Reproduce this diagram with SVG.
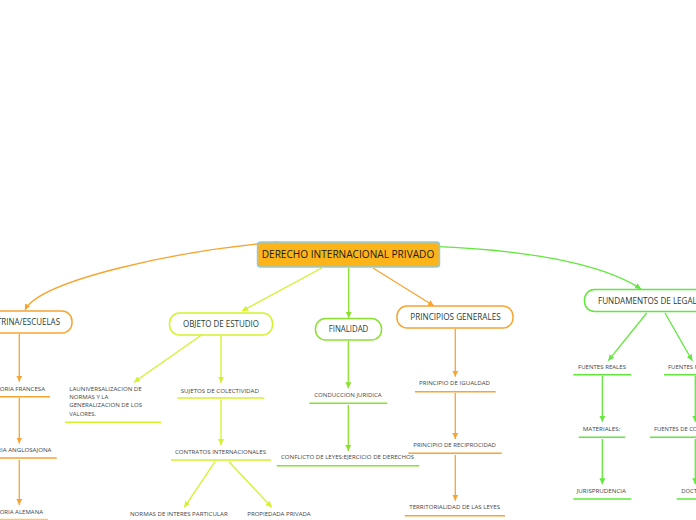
<svg xmlns="http://www.w3.org/2000/svg" width="696" height="520" viewBox="0 0 696 520">
<defs>
<style>
.conn{fill:none;stroke-width:1.3}
.o{stroke:#f6a531}
.y{stroke:#d4f22b}
.g{stroke:#8ae22f}
.b{stroke:#62e83c}
.box{fill:#ffffff;stroke-width:1.5}
.bt{font-family:"Open Sans","Liberation Sans",sans-serif;font-size:8.5px;fill:#1f3d35;text-anchor:middle}
.st{font-family:"Open Sans","Liberation Sans",sans-serif;font-size:6px;fill:#444444}
.ul{stroke-width:1.5;fill:none}
</style>
<marker id="ao" viewBox="0 0 6 6" refX="6" refY="3" markerWidth="6" markerHeight="6" markerUnits="userSpaceOnUse" orient="auto"><path d="M0,0 L6,3 L0,6 z" fill="#f6a531"/></marker>
<marker id="ay" viewBox="0 0 6 6" refX="6" refY="3" markerWidth="6" markerHeight="6" markerUnits="userSpaceOnUse" orient="auto"><path d="M0,0 L6,3 L0,6 z" fill="#d4f22b"/></marker>
<marker id="ag" viewBox="0 0 6 6" refX="6" refY="3" markerWidth="6" markerHeight="6" markerUnits="userSpaceOnUse" orient="auto"><path d="M0,0 L6,3 L0,6 z" fill="#8ae22f"/></marker>
<marker id="ab" viewBox="0 0 6 6" refX="6" refY="3" markerWidth="6" markerHeight="6" markerUnits="userSpaceOnUse" orient="auto"><path d="M0,0 L6,3 L0,6 z" fill="#62e83c"/></marker>
</defs>
<rect width="696" height="520" fill="#ffffff"/>

<g id="connectors">
<path class="conn o" marker-end="url(#ao)" d="M278,242 C180,250 40,280 25,310"/>
<path class="conn o" marker-end="url(#ao)" d="M19.3,334 V381.7"/>
<path class="conn o" marker-end="url(#ao)" d="M19.3,398 V443.5"/>
<path class="conn o" marker-end="url(#ao)" d="M19.3,460 V505"/>
<path class="conn o" marker-end="url(#ao)" d="M373,268 L434,306"/>
<path class="conn o" marker-end="url(#ao)" d="M455.3,329 V376.7"/>
<path class="conn o" marker-end="url(#ao)" d="M455.3,393 V439"/>
<path class="conn o" marker-end="url(#ao)" d="M455.3,455 V500.7"/>
<path class="conn y" marker-end="url(#ay)" d="M321.7,268 L242,311"/>
<path class="conn y" marker-end="url(#ay)" d="M213.3,326.7 L134,382.3"/>
<path class="conn y" marker-end="url(#ay)" d="M221,336 V382.7"/>
<path class="conn y" marker-end="url(#ay)" d="M221,400 V445"/>
<path class="conn y" marker-end="url(#ay)" d="M215,461.7 L184.3,507.3"/>
<path class="conn y" marker-end="url(#ay)" d="M229,461.7 L271.7,507.3"/>
<path class="conn g" marker-end="url(#ag)" d="M348.7,268 V318"/>
<path class="conn g" marker-end="url(#ag)" d="M348.3,341 V388.3"/>
<path class="conn g" marker-end="url(#ag)" d="M348.3,405 V451"/>
<path class="conn b" marker-end="url(#ab)" d="M439,246.7 C520,250 600,262 641,289"/>
<path class="conn b" marker-end="url(#ab)" d="M646.7,313 L608.3,360.7"/>
<path class="conn b" marker-end="url(#ab)" d="M665,313 L692.3,360.7"/>
<path class="conn b" marker-end="url(#ab)" d="M602.3,376 V421.7"/>
<path class="conn b" marker-end="url(#ab)" d="M602.3,439 V484.3"/>
<path class="conn b" marker-end="url(#ab)" d="M695.3,376 V421.7"/>
<path class="conn b" marker-end="url(#ab)" d="M695.3,439 V484.3"/>
</g>

<g id="root">
<rect x="257.5" y="242" width="182" height="25" rx="3" fill="#fbb51b" stroke="#8ecbe6" stroke-width="1.5"/>
<text x="348" y="258" font-family="'Open Sans','Liberation Sans',sans-serif" font-size="11" fill="#1a1a1a" text-anchor="middle" textLength="172.6" lengthAdjust="spacingAndGlyphs">DERECHO INTERNACIONAL PRIVADO</text>
</g>

<g id="doctrina">
<rect class="box" x="-34" y="311" width="106" height="22" rx="10" stroke="#f6a531"/>
<text class="bt" x="20" y="324.5" textLength="80" lengthAdjust="spacingAndGlyphs">DOCTRINA/ESCUELAS</text>
</g>
<g id="objeto">
<rect class="box" x="169.5" y="313" width="103" height="22" rx="10" stroke="#d4f22b"/>
<text class="bt" x="221" y="327" textLength="76" lengthAdjust="spacingAndGlyphs">OBJETO DE ESTUDIO</text>
</g>
<g id="finalidad">
<rect class="box" x="315.5" y="318.5" width="66" height="21.5" rx="10" stroke="#8ae22f"/>
<text class="bt" x="348.5" y="332" textLength="39.6" lengthAdjust="spacingAndGlyphs">FINALIDAD</text>
</g>
<g id="principios">
<rect class="box" x="397" y="306" width="116" height="22" rx="10" stroke="#f6a531"/>
<text class="bt" x="455.5" y="320" textLength="90.4" lengthAdjust="spacingAndGlyphs">PRINCIPIOS GENERALES</text>
</g>
<g id="fundamentos">
<rect class="box" x="584.5" y="289.5" width="146" height="22" rx="10" stroke="#62e83c"/>
<text class="bt" x="657" y="304" textLength="118" lengthAdjust="spacingAndGlyphs">FUNDAMENTOS DE LEGALIDAD</text>
</g>

<g id="teoria-francesa">
<text class="st" x="-7" y="391" textLength="52" lengthAdjust="spacingAndGlyphs">TEORIA FRANCESA</text>
<line class="ul" x1="-5" y1="396.7" x2="50" y2="396.7" stroke="#f6a531"/>
</g>
<g id="teoria-anglosajona">
<text class="st" x="-14.5" y="452" textLength="66" lengthAdjust="spacingAndGlyphs">TEORIA ANGLOSAJONA</text>
<line class="ul" x1="-12" y1="458" x2="56.7" y2="458" stroke="#f6a531"/>
</g>
<g id="teoria-alemana">
<text class="st" x="-7" y="514" textLength="50" lengthAdjust="spacingAndGlyphs">TEORIA ALEMANA</text>
<line class="ul" x1="-5" y1="519.5" x2="48" y2="519.5" stroke="#f9c679"/>
</g>

<g id="universalizacion">
<text class="st" x="69.3" y="390.7" textLength="72.4" lengthAdjust="spacingAndGlyphs">LAUNIVERSALIZACION DE</text>
<text class="st" x="69.3" y="399" textLength="39" lengthAdjust="spacingAndGlyphs">NORMAS Y LA</text>
<text class="st" x="69.3" y="407.3" textLength="72.7" lengthAdjust="spacingAndGlyphs">GENERALIZACION DE LOS</text>
<text class="st" x="69.3" y="415.5" textLength="26.7" lengthAdjust="spacingAndGlyphs">VALORES.</text>
<line class="ul" x1="65" y1="422.3" x2="161" y2="422.3" stroke="#d4f22b"/>
</g>
<g id="sujetos">
<text class="st" x="180.7" y="392.7" textLength="78.3" lengthAdjust="spacingAndGlyphs">SUJETOS DE COLECTIVIDAD</text>
<line class="ul" x1="177.3" y1="398" x2="264.3" y2="398" stroke="#d4f22b"/>
</g>
<g id="contratos">
<text class="st" x="175" y="454" textLength="91" lengthAdjust="spacingAndGlyphs">CONTRATOS INTERNACIONALES</text>
<line class="ul" x1="171" y1="460" x2="271" y2="460" stroke="#d4f22b"/>
</g>
<g id="normas-interes">
<text class="st" x="130" y="516" textLength="97.7" lengthAdjust="spacingAndGlyphs">NORMAS DE INTERES PARTICULAR</text>
</g>
<g id="propiedada">
<text class="st" x="247.3" y="516" textLength="63.4" lengthAdjust="spacingAndGlyphs">PROPIEDADA PRIVADA</text>
</g>

<g id="conduccion">
<text class="st" x="314.3" y="397.3" textLength="67.4" lengthAdjust="spacingAndGlyphs">CONDUCCION JURIDICA</text>
<line class="ul" x1="309.3" y1="403.3" x2="387.3" y2="403.3" stroke="#8ae22f"/>
</g>
<g id="conflicto">
<text class="st" x="281" y="459.3" textLength="133" lengthAdjust="spacingAndGlyphs">CONFLICTO DE LEYES:EJERCICIO DE DERECHOS</text>
<line class="ul" x1="276.7" y1="465.7" x2="419.3" y2="465.7" stroke="#8ae22f"/>
</g>

<g id="igualdad">
<text class="st" x="419" y="385.3" textLength="71" lengthAdjust="spacingAndGlyphs">PRINCIPIO DE IGUALDAD</text>
<line class="ul" x1="415" y1="391.7" x2="495.7" y2="391.7" stroke="#f6a531"/>
</g>
<g id="reciprocidad">
<text class="st" x="413.3" y="447" textLength="82.7" lengthAdjust="spacingAndGlyphs">PRINCIPIO DE RECIPROCIDAD</text>
<line class="ul" x1="408.3" y1="453.3" x2="501.7" y2="453.3" stroke="#f6a531"/>
</g>
<g id="territorialidad">
<text class="st" x="409.3" y="508.7" textLength="90.7" lengthAdjust="spacingAndGlyphs">TERRITORIALIDAD DE LAS LEYES</text>
<line class="ul" x1="404.7" y1="515.7" x2="505" y2="515.7" stroke="#f6a531"/>
</g>

<g id="fuentes-reales">
<text class="st" x="578" y="369" textLength="48" lengthAdjust="spacingAndGlyphs">FUENTES REALES</text>
<line class="ul" x1="573.3" y1="374.7" x2="631.3" y2="374.7" stroke="#62e83c"/>
</g>
<g id="fuentes-formales">
<text class="st" x="668" y="369" textLength="57" lengthAdjust="spacingAndGlyphs">FUENTES FORMALES</text>
<line class="ul" x1="664" y1="374.7" x2="727" y2="374.7" stroke="#62e83c"/>
</g>
<g id="materiales">
<text class="st" x="582.7" y="431" textLength="37.6" lengthAdjust="spacingAndGlyphs">MATERIALES:</text>
<line class="ul" x1="578.7" y1="437.3" x2="625.3" y2="437.3" stroke="#62e83c"/>
</g>
<g id="fuentes-conocimiento">
<text class="st" x="654" y="431" textLength="80" lengthAdjust="spacingAndGlyphs">FUENTES DE CONOCIMIENTO</text>
<line class="ul" x1="650" y1="437.3" x2="740" y2="437.3" stroke="#62e83c"/>
</g>
<g id="jurisprudencia">
<text class="st" x="576.7" y="493" textLength="49.3" lengthAdjust="spacingAndGlyphs">JURISPRUDENCIA</text>
<line class="ul" x1="573.3" y1="499" x2="631.3" y2="499" stroke="#62e83c"/>
</g>
<g id="doctrina-fuente">
<text class="st" x="681.3" y="493" textLength="29" lengthAdjust="spacingAndGlyphs">DOCTRINA</text>
<line class="ul" x1="676.7" y1="499" x2="714" y2="499" stroke="#62e83c"/>
</g>
</svg>
